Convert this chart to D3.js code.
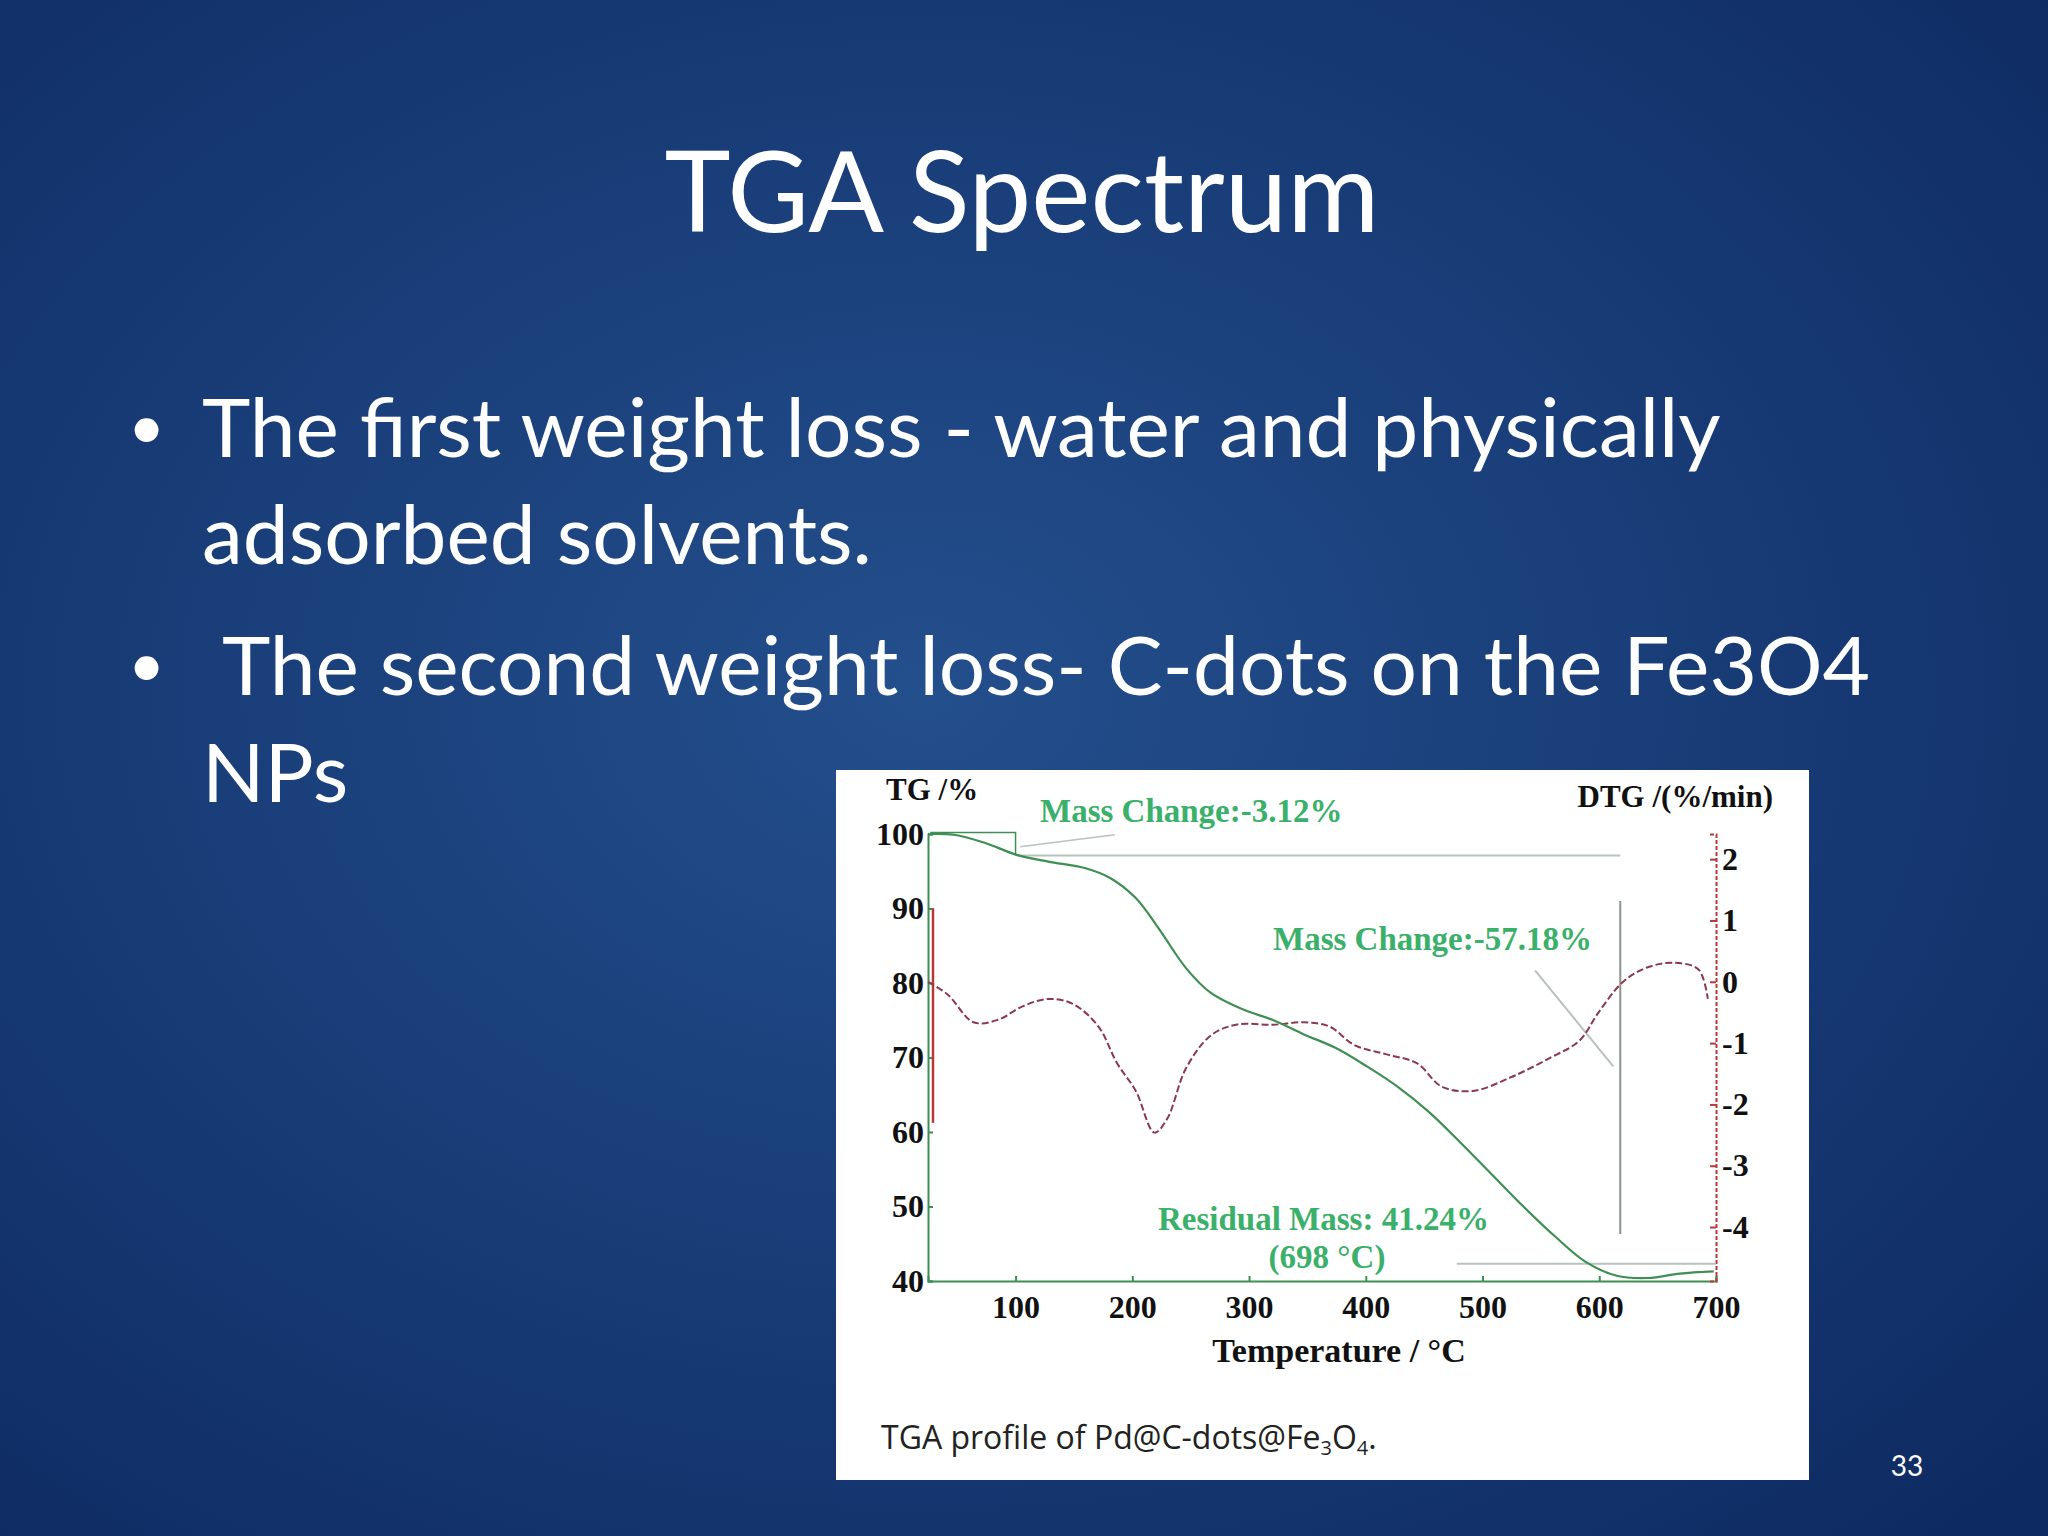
<!DOCTYPE html>
<html lang="en">
<head>
<meta charset="UTF-8"/>
<title>TGA Spectrum</title>
<script src="https://d3js.org/d3.v7.min.js"></script>
<style>
  body { margin: 0; overflow: hidden; }
</style>
</head>
<body>
<div id="content-area"></div>
<script>
    // TG curve (temperature in °C, mass in %)
    const tgTemp = [25, 47, 74, 101, 128, 160, 181, 203, 224, 246, 267, 294, 321, 347, 374, 401, 428, 454, 481, 508, 535, 562, 588, 615, 642, 669, 698];
    const tgMass = [100, 99.9, 98.8, 97.2, 96.3, 95.4, 94.1, 91.4, 87, 82, 78.7, 76.5, 75, 73.1, 71.3, 68.8, 66, 62.7, 58.6, 54.3, 50, 46, 42.6, 40.7, 40.4, 41.0, 41.3];
    // DTG curve (temperature in °C, %/min)
    const dtgTemp = [25, 42, 64, 85, 106, 128, 149, 171, 187, 203, 219, 230, 246, 267, 289, 321, 347, 369, 390, 417, 444, 465, 492, 524, 556, 583, 599, 621, 642, 664, 685, 693];
    const dtgRate = [0, -0.21, -0.66, -0.62, -0.4, -0.28, -0.36, -0.73, -1.33, -1.78, -2.46, -2.23, -1.41, -0.88, -0.7, -0.7, -0.66, -0.73, -1.03, -1.18, -1.33, -1.71, -1.78, -1.56, -1.26, -0.96, -0.51, 0.01, 0.24, 0.31, 0.2, -0.28];
    const xTicks = [100, 200, 300, 400, 500, 600, 700];
    const tgTicks = [40, 50, 60, 70, 80, 90, 100];
    const dtgTicks = [-4, -3, -2, -1, 0, 1, 2];

    const w = 2048, h = 1536;
    const svg = d3.select("#content-area").append("svg")
        .attr("width", w).attr("height", h);

    // slide background
    const defs = svg.append("defs");
    const grad = defs.append("radialGradient").attr("id", "bg")
        .attr("cx", "45%").attr("cy", "45%").attr("r", "75%");
    grad.append("stop").attr("offset", "0%").attr("stop-color", "#234f8c");
    grad.append("stop").attr("offset", "100%").attr("stop-color", "#0e2a62");
    svg.append("rect").attr("width", w).attr("height", h).attr("fill", "url(#bg)");

    const sans = "Lato, 'Open Sans', sans-serif";
    svg.append("text").attr("x", 1022).attr("y", 232).attr("text-anchor", "middle")
        .attr("font-family", sans).attr("font-size", 112).attr("fill", "white")
        .text("TGA Spectrum");

    const lines = [
        { b: true, x: 202, y: 457, t: "The first weight loss - water and physically" },
        { b: false, x: 202, y: 564, t: "adsorbed solvents." },
        { b: true, x: 222, y: 695, t: "The second weight loss- C-dots on the Fe3O4" },
        { b: false, x: 202, y: 802, t: "NPs" }
    ];
    lines.forEach(l => {
        if (l.b) svg.append("text").attr("x", 128).attr("y", l.y - 8)
            .attr("font-family", sans).attr("font-size", 64).attr("fill", "white").text("•");
        svg.append("text").attr("x", l.x).attr("y", l.y)
            .attr("font-family", sans).attr("font-size", 82).attr("fill", "white").text(l.t);
    });
    svg.append("text").attr("x", 1907).attr("y", 1476).attr("text-anchor", "middle")
        .attr("font-family", sans).attr("font-size", 28).attr("fill", "white").text("33");

    // figure panel
    svg.append("rect").attr("x", 836).attr("y", 770).attr("width", 973).attr("height", 710).attr("fill", "white");

    const green = "#3f8f55", textGreen = "#3bb06a", red = "#b8383a";
    const serif = "'Liberation Serif', 'DejaVu Serif', serif";

    const x = d3.scaleLinear().domain([25, 700]).range([928, 1716]);
    const yTG = d3.scaleLinear().domain([40, 100]).range([1281, 834]);
    const yDTG = d3.scaleLinear().domain([-4.88, 2.41]).range([1281, 834]);

    const xAxis = svg.append("g").attr("transform", "translate(0,1281)")
        .call(d3.axisBottom(x).tickValues(xTicks).tickSize(-5).tickPadding(14));
    const lAxis = svg.append("g").attr("transform", "translate(928,0)")
        .call(d3.axisLeft(yTG).tickValues(tgTicks).tickSize(-5).tickPadding(4));
    const rAxis = svg.append("g").attr("transform", "translate(1716,0)")
        .call(d3.axisRight(yDTG).tickValues(dtgTicks).tickFormat(d => String(d)).tickSize(-6).tickPadding(6));
    [xAxis, lAxis, rAxis].forEach(a => a.selectAll("text")
        .attr("font-family", serif).attr("font-weight", "bold").attr("font-size", 32).attr("fill", "#111"));
    xAxis.selectAll("path,line").attr("stroke", green).attr("stroke-width", 2);
    lAxis.selectAll("path,line").attr("stroke", green).attr("stroke-width", 2);
    rAxis.selectAll("path,line").attr("stroke", red).attr("stroke-width", 2);
    rAxis.select("path").attr("stroke-dasharray", "4,2");

    // red DTG marker on the left
    svg.append("line").attr("x1", 933).attr("x2", 933).attr("y1", yDTG(1.2)).attr("y2", yDTG(-2.3))
        .attr("stroke", red).attr("stroke-width", 2.5);

    // annotation guides
    const grey = "#b9c2bc";
    svg.append("path").attr("fill", "none").attr("stroke", green).attr("stroke-width", 1.5)
        .attr("d", `M${x(27)},${yTG(100.2)}H${x(100)}V${yTG(97.1)}`);
    svg.append("line").attr("x1", x(101)).attr("x2", x(618)).attr("y1", yTG(97.1)).attr("y2", yTG(97.1))
        .attr("stroke", grey).attr("stroke-width", 2);
    svg.append("line").attr("x1", x(104)).attr("x2", x(185)).attr("y1", yTG(98.3)).attr("y2", yTG(99.9))
        .attr("stroke", grey).attr("stroke-width", 1.5);
    svg.append("line").attr("x1", x(618)).attr("x2", x(618)).attr("y1", yTG(91)).attr("y2", yTG(46.3))
        .attr("stroke", "#8a948d").attr("stroke-width", 2);
    svg.append("line").attr("x1", x(545)).attr("x2", x(612)).attr("y1", yTG(81.7)).attr("y2", yTG(68.8))
        .attr("stroke", grey).attr("stroke-width", 2);
    svg.append("line").attr("x1", x(478)).attr("x2", x(700)).attr("y1", yTG(42.3)).attr("y2", yTG(42.3))
        .attr("stroke", grey).attr("stroke-width", 2);

    // curves
    svg.append("path").datum(dtgTemp.map((t, i) => [t, dtgRate[i]]))
        .attr("fill", "none").attr("stroke", "#8a3a50").attr("stroke-width", 2)
        .attr("stroke-dasharray", "7,3")
        .attr("d", d3.line().x(d => x(d[0])).y(d => yDTG(d[1])).curve(d3.curveCatmullRom));
    svg.append("path").datum(tgTemp.map((t, i) => [t, tgMass[i]]))
        .attr("fill", "none").attr("stroke", green).attr("stroke-width", 2.2)
        .attr("d", d3.line().x(d => x(d[0])).y(d => yTG(d[1])).curve(d3.curveCatmullRom));

    // labels
    const lbl = (tx, ty, t, opts = {}) => svg.append("text").attr("x", tx).attr("y", ty)
        .attr("font-family", serif).attr("font-weight", "bold").attr("font-size", opts.size || 33)
        .attr("fill", opts.fill || textGreen).attr("text-anchor", opts.anchor || "start").text(t);
    lbl(886, 800, "TG /%", { fill: "#111", size: 31 });
    lbl(1773, 807, "DTG /(%/min)", { fill: "#111", anchor: "end", size: 31 });
    lbl(1040, 822, "Mass Change:-3.12%");
    lbl(1273, 950, "Mass Change:-57.18%");
    lbl(1158, 1230, "Residual Mass: 41.24%");
    lbl(1327, 1268, "(698 °C)", { anchor: "middle" });
    lbl(1339, 1362, "Temperature / °C", { fill: "#111", anchor: "middle", size: 34 });

    const cap = svg.append("text").attr("x", 881).attr("y", 1449)
        .attr("font-family", "'Open Sans', sans-serif").attr("font-size", 32).attr("fill", "#222");
    cap.append("tspan").text("TGA profile of Pd@C-dots@Fe");
    cap.append("tspan").attr("font-size", 20).attr("dy", 6).text("3");
    cap.append("tspan").attr("dy", -6).text("O");
    cap.append("tspan").attr("font-size", 20).attr("dy", 6).text("4");
    cap.append("tspan").attr("dy", -6).text(".");
</script>
</body>
</html>
